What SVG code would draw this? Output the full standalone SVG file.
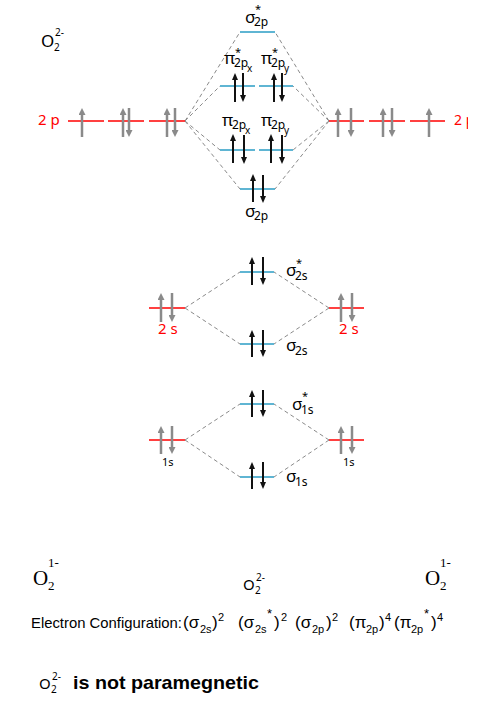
<svg xmlns="http://www.w3.org/2000/svg" width="479" height="706" viewBox="0 0 479 706">
<defs>
<style>
.ao{stroke:#ff0000;stroke-width:1.5}
.mo{stroke:#2a9dc4;stroke-width:1.5}
.dash{stroke:#8a8a8a;stroke-width:1;stroke-dasharray:4 3;fill:none}
.ga{stroke:#8a8a8a;stroke-width:2.5;fill:none;marker-end:url(#gh)}
.ba{stroke:#111;stroke-width:2;fill:none;marker-end:url(#bh)}
.t{font-family:"Noto Sans","DejaVu Sans",sans-serif;fill:#000}
.red{fill:#ff0000}
.serif{font-family:"Liberation Serif","Times New Roman",serif;fill:#000}
.cfg{font-family:"Liberation Sans",Arial,sans-serif;fill:#000}
.bold{font-family:"Liberation Sans",Arial,sans-serif;font-weight:bold;fill:#000}
</style>
<marker id="bh" markerUnits="userSpaceOnUse" markerWidth="7" markerHeight="6" refX="0" refY="3" orient="auto" viewBox="0 0 7 6"><path d="M0,0 L7,3 L0,6 z" fill="#111"/></marker>
<marker id="gh" markerUnits="userSpaceOnUse" markerWidth="7" markerHeight="7" refX="0" refY="3.5" orient="auto" viewBox="0 0 7 7"><path d="M0,0 L7,3.5 L0,7 z" fill="#8a8a8a"/></marker>
<clipPath id="clipR"><rect x="0" y="0" width="468" height="706"/></clipPath>
</defs>
<rect width="479" height="706" fill="#fff"/>

<g id="connectors">
<path class="dash" d="M185,121 L240,32 M185,121 L220,86 M185,121 L220,150 M185,121 L240,189"/>
<path class="dash" d="M329,121 L275,32 M329,121 L293,86 M329,121 L293,150 M329,121 L275,189"/>
<path class="dash" d="M185,308 L240,272 M185,308 L240,344 M329,308 L274,272 M329,308 L274,344"/>
<path class="dash" d="M185,440 L240,404 M185,440 L240,477 M329,440 L274,404 M329,440 L274,477"/>
</g>

<g id="title-top">
<text class="t"><tspan x="41" y="47" font-size="17">O</tspan><tspan x="54" y="51" font-size="10">2</tspan><tspan x="55" y="36" font-size="10">2-</tspan></text>
</g>

<g id="ao-2p-left">
<text class="t red" x="38" y="125" font-size="15">2 p</text>
<line class="ao" x1="68" y1="121" x2="104" y2="121"/>
<line class="ao" x1="108" y1="121" x2="144" y2="121"/>
<line class="ao" x1="149" y1="121" x2="185" y2="121"/>
<path class="ga" d="M82,137 V115"/>
<path class="ga" d="M123,137 V115"/>
<path class="ga" d="M129,108 V130"/>
<path class="ga" d="M167,137 V115"/>
<path class="ga" d="M175,108 V130"/>
</g>

<g id="ao-2p-right">
<line class="ao" x1="329" y1="121" x2="364" y2="121"/>
<line class="ao" x1="369" y1="121" x2="405" y2="121"/>
<line class="ao" x1="410" y1="121" x2="445" y2="121"/>
<path class="ga" d="M338,137 V115"/>
<path class="ga" d="M351,108 V130"/>
<path class="ga" d="M383,137 V115"/>
<path class="ga" d="M392,108 V130"/>
<path class="ga" d="M429,137 V115"/>
<text class="t red" x="454" y="125" font-size="14" clip-path="url(#clipR)">2 p</text>
</g>

<g id="mo-sigma2p-star">
<line class="mo" x1="240" y1="32" x2="275" y2="32"/>
<text class="t"><tspan x="245" y="23" font-size="17">σ</tspan><tspan x="254" y="26" font-size="12">2p</tspan><tspan x="255" y="13" font-size="11">*</tspan></text>
</g>

<g id="mo-pi2px-star">
<line class="mo" x1="220" y1="86" x2="255" y2="86"/>
<path class="ba" d="M235,102 V80"/>
<path class="ba" d="M243,73 V95"/>
<text class="t"><tspan x="224" y="64" font-size="17">π</tspan><tspan x="234" y="67" font-size="12">2p</tspan><tspan x="247" y="72" font-size="10">x</tspan><tspan x="235" y="56" font-size="11">*</tspan></text>
</g>

<g id="mo-pi2py-star">
<line class="mo" x1="259" y1="86" x2="293" y2="86"/>
<path class="ba" d="M274,102 V80"/>
<path class="ba" d="M282,73 V95"/>
<text class="t"><tspan x="261" y="64" font-size="17">π</tspan><tspan x="271" y="67" font-size="12">2p</tspan><tspan x="284" y="72" font-size="10">y</tspan><tspan x="272" y="56" font-size="11">*</tspan></text>
</g>

<g id="mo-pi2px">
<line class="mo" x1="220" y1="150" x2="255" y2="150"/>
<path class="ba" d="M233,163 V141"/>
<path class="ba" d="M244,135 V157"/>
<text class="t"><tspan x="222" y="126" font-size="17">π</tspan><tspan x="232" y="129" font-size="12">2p</tspan><tspan x="245" y="134" font-size="10">x</tspan></text>
</g>

<g id="mo-pi2py">
<line class="mo" x1="259" y1="150" x2="293" y2="150"/>
<path class="ba" d="M271,163 V141"/>
<path class="ba" d="M282,135 V157"/>
<text class="t"><tspan x="261" y="126" font-size="17">π</tspan><tspan x="271" y="129" font-size="12">2p</tspan><tspan x="284" y="134" font-size="10">y</tspan></text>
</g>

<g id="mo-sigma2p">
<line class="mo" x1="240" y1="189" x2="275" y2="189"/>
<path class="ba" d="M253,202 V181"/>
<path class="ba" d="M263,175 V196"/>
<text class="t"><tspan x="245" y="217" font-size="17">σ</tspan><tspan x="254" y="220" font-size="12">2p</tspan></text>
</g>

<g id="ao-2s-left">
<line class="ao" x1="149" y1="308" x2="185" y2="308"/>
<path class="ga" d="M161,322 V300"/>
<path class="ga" d="M172,293 V315"/>
<text class="t red" x="158" y="334" font-size="15">2 s</text>
</g>

<g id="ao-2s-right">
<line class="ao" x1="329" y1="308" x2="364" y2="308"/>
<path class="ga" d="M341,322 V300"/>
<path class="ga" d="M352,293 V315"/>
<text class="t red" x="339" y="334" font-size="15">2 s</text>
</g>

<g id="mo-sigma2s-star">
<line class="mo" x1="240" y1="272" x2="274" y2="272"/>
<path class="ba" d="M252,285 V264"/>
<path class="ba" d="M263,257 V278"/>
<text class="t"><tspan x="286" y="276" font-size="17">σ</tspan><tspan x="295" y="280" font-size="12">2s</tspan><tspan x="296" y="267" font-size="11">*</tspan></text>
</g>

<g id="mo-sigma2s">
<line class="mo" x1="240" y1="344" x2="274" y2="344"/>
<path class="ba" d="M252,357 V337"/>
<path class="ba" d="M263,330 V350"/>
<text class="t"><tspan x="286" y="351" font-size="17">σ</tspan><tspan x="295" y="355" font-size="12">2s</tspan></text>
</g>

<g id="ao-1s-left">
<line class="ao" x1="149" y1="440" x2="185" y2="440"/>
<path class="ga" d="M161,454 V433"/>
<path class="ga" d="M172,426 V447"/>
<text class="t" x="162" y="466" font-size="11">1s</text>
</g>

<g id="ao-1s-right">
<line class="ao" x1="329" y1="440" x2="364" y2="440"/>
<path class="ga" d="M341,454 V433"/>
<path class="ga" d="M352,426 V447"/>
<text class="t" x="343" y="466" font-size="11">1s</text>
</g>

<g id="mo-sigma1s-star">
<line class="mo" x1="240" y1="404" x2="274" y2="404"/>
<path class="ba" d="M252,417 V397"/>
<path class="ba" d="M263,390 V410"/>
<text class="t"><tspan x="292" y="410" font-size="17">σ</tspan><tspan x="301" y="414" font-size="12">1s</tspan><tspan x="302" y="400" font-size="11">*</tspan></text>
</g>

<g id="mo-sigma1s">
<line class="mo" x1="240" y1="477" x2="274" y2="477"/>
<path class="ba" d="M252,489 V469"/>
<path class="ba" d="M263,462 V482"/>
<text class="t"><tspan x="286" y="482" font-size="17">σ</tspan><tspan x="295" y="486" font-size="12">1s</tspan></text>
</g>

<g id="label-O2-left">
<text class="serif"><tspan x="33" y="585" font-size="21">O</tspan><tspan x="48" y="590" font-size="13">2</tspan><tspan x="48" y="567" font-size="13">1-</tspan></text>
</g>

<g id="label-O2-mid">
<text class="t"><tspan x="243" y="590" font-size="15">O</tspan><tspan x="255" y="594" font-size="10">2</tspan><tspan x="256" y="581" font-size="10">2-</tspan></text>
</g>

<g id="label-O2-right">
<text class="serif"><tspan x="425" y="585" font-size="21">O</tspan><tspan x="440" y="590" font-size="13">2</tspan><tspan x="440" y="567" font-size="13">1-</tspan></text>
</g>

<g id="electron-configuration">
<text class="cfg" x="31" y="628" font-size="15" textLength="151" lengthAdjust="spacingAndGlyphs">Electron Configuration:</text>
<text class="cfg"><tspan x="183" y="628" font-size="17">(σ</tspan><tspan x="200" y="633" font-size="11">2s</tspan><tspan x="212" y="628" font-size="17">)</tspan><tspan x="218" y="621" font-size="11">2</tspan></text>
<text class="cfg"><tspan x="238" y="628" font-size="17">(σ</tspan><tspan x="255" y="633" font-size="11">2s</tspan><tspan x="267" y="618" font-size="13">*</tspan><tspan x="274" y="628" font-size="17">)</tspan><tspan x="281" y="621" font-size="11">2</tspan></text>
<text class="cfg"><tspan x="295" y="628" font-size="17">(σ</tspan><tspan x="312" y="633" font-size="11">2p</tspan><tspan x="326" y="628" font-size="17">)</tspan><tspan x="332" y="621" font-size="11">2</tspan></text>
<text class="cfg"><tspan x="349" y="628" font-size="17">(π</tspan><tspan x="366" y="633" font-size="11">2p</tspan><tspan x="379" y="628" font-size="17">)</tspan><tspan x="385" y="621" font-size="11">4</tspan></text>
<text class="cfg"><tspan x="394" y="628" font-size="17">(π</tspan><tspan x="411" y="633" font-size="11">2p</tspan><tspan x="424" y="618" font-size="13">*</tspan><tspan x="431" y="628" font-size="17">)</tspan><tspan x="437" y="621" font-size="11">4</tspan></text>
</g>

<g id="statement">
<text class="t"><tspan x="39" y="689" font-size="15">O</tspan><tspan x="51" y="693" font-size="10">2</tspan><tspan x="52" y="680" font-size="10">2-</tspan></text>
<text class="bold" x="73" y="689" font-size="19" textLength="186" lengthAdjust="spacingAndGlyphs">is not paramegnetic</text>
</g>
</svg>
